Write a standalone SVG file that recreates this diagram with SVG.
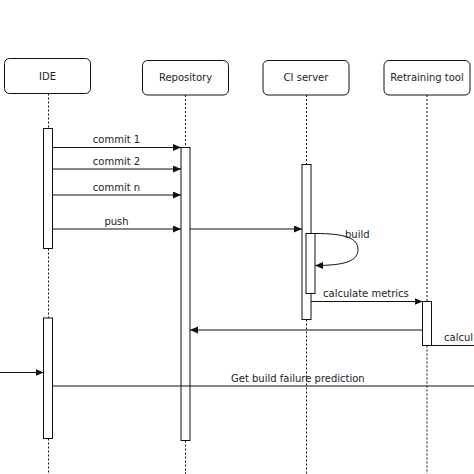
<svg xmlns="http://www.w3.org/2000/svg" width="474" height="474" viewBox="0 0 474 474">
<style>
.box{fill:#fff;stroke:#111;stroke-width:1}
.act{fill:#fff;stroke:#111;stroke-width:1}
.life{stroke:#111;stroke-width:1;stroke-dasharray:2,2;fill:none}
.msg{stroke:#111;stroke-width:1;fill:none}
text{font-family:"DejaVu Sans","Noto Sans",sans-serif;font-size:10px;fill:#222}
.lbl{text-anchor:middle}
</style>
<defs>
<marker id="ah" markerUnits="userSpaceOnUse" markerWidth="9" markerHeight="8" refX="8" refY="3.5" orient="auto">
<path d="M0,0 L8,3.5 L0,7 z" fill="#111"/>
</marker>
</defs>
<rect width="474" height="474" fill="#fff"/>
<g id="lifelines">
<line class="life" x1="48.5" y1="93.5" x2="48.5" y2="128.5"/>
<line class="life" x1="48.5" y1="248.5" x2="48.5" y2="318"/>
<line class="life" x1="48.5" y1="438.5" x2="48.5" y2="474"/>
<line class="life" x1="185.5" y1="95" x2="185.5" y2="147.5"/>
<line class="life" x1="185.5" y1="440.5" x2="185.5" y2="474"/>
<line class="life" x1="306.5" y1="95" x2="306.5" y2="164.5"/>
<line class="life" x1="306.5" y1="319.5" x2="306.5" y2="474"/>
<line class="life" x1="427" y1="95" x2="427" y2="301.5"/>
<line class="life" x1="427" y1="345.5" x2="427" y2="474"/>
</g>
<g id="IDE">
<rect class="box" x="4.5" y="58.5" width="86" height="35" rx="5"/>
<text class="lbl" x="47.5" y="80">IDE</text>
<rect class="act" x="43.5" y="128.5" width="9" height="120"/>
<rect class="act" x="43.5" y="318" width="9" height="120.5"/>
</g>
<g id="Repository">
<rect class="box" x="142.5" y="60.5" width="86" height="34.5" rx="5"/>
<text class="lbl" x="185.5" y="81">Repository</text>
<rect class="act" x="181" y="147.5" width="9" height="293"/>
</g>
<g id="CIserver">
<rect class="box" x="263" y="60.5" width="86" height="34.5" rx="5"/>
<text class="lbl" x="306" y="81">CI server</text>
<rect class="act" x="302" y="164.5" width="9" height="155"/>
<rect class="act" x="306" y="233.5" width="9" height="60"/>
</g>
<g id="RetrainingTool">
<rect class="box" x="384" y="60.5" width="86" height="34.5" rx="5"/>
<text class="lbl" x="427" y="81">Retraining tool</text>
<rect class="act" x="422.5" y="301.5" width="9" height="44"/>
</g>
<g id="connectors">
<line class="msg" x1="52.5" y1="147.5" x2="181" y2="147.5" marker-end="url(#ah)"/>
<text class="lbl" x="116.5" y="143">commit 1</text>
<line class="msg" x1="52.5" y1="169" x2="181" y2="169" marker-end="url(#ah)"/>
<text class="lbl" x="116.5" y="164.5">commit 2</text>
<line class="msg" x1="52.5" y1="195" x2="181" y2="195" marker-end="url(#ah)"/>
<text class="lbl" x="116.5" y="190.5">commit n</text>
<line class="msg" x1="52.5" y1="229" x2="181" y2="229" marker-end="url(#ah)"/>
<text class="lbl" x="116.5" y="224.5">push</text>
<line class="msg" x1="190" y1="229" x2="302" y2="229" marker-end="url(#ah)"/>
<path class="msg" d="M315,233.5 C345,233.5 358,238 358,249.5 C358,261 345,265.5 315,265.5" marker-end="url(#ah)"/>
<text x="345" y="237.5">build</text>
<line class="msg" x1="311" y1="301.5" x2="422.5" y2="301.5" marker-end="url(#ah)"/>
<text x="323" y="297">calculate metrics</text>
<line class="msg" x1="422.5" y1="330" x2="190" y2="330" marker-end="url(#ah)"/>
<line class="msg" x1="431.5" y1="345.5" x2="474" y2="345.5"/>
<text x="444" y="341">calcul</text>
<line class="msg" x1="0" y1="372.5" x2="43.5" y2="372.5" marker-end="url(#ah)"/>
<line class="msg" x1="52.5" y1="386" x2="474" y2="386"/>
<text x="231" y="381.5">Get build failure prediction</text>
</g>
</svg>
